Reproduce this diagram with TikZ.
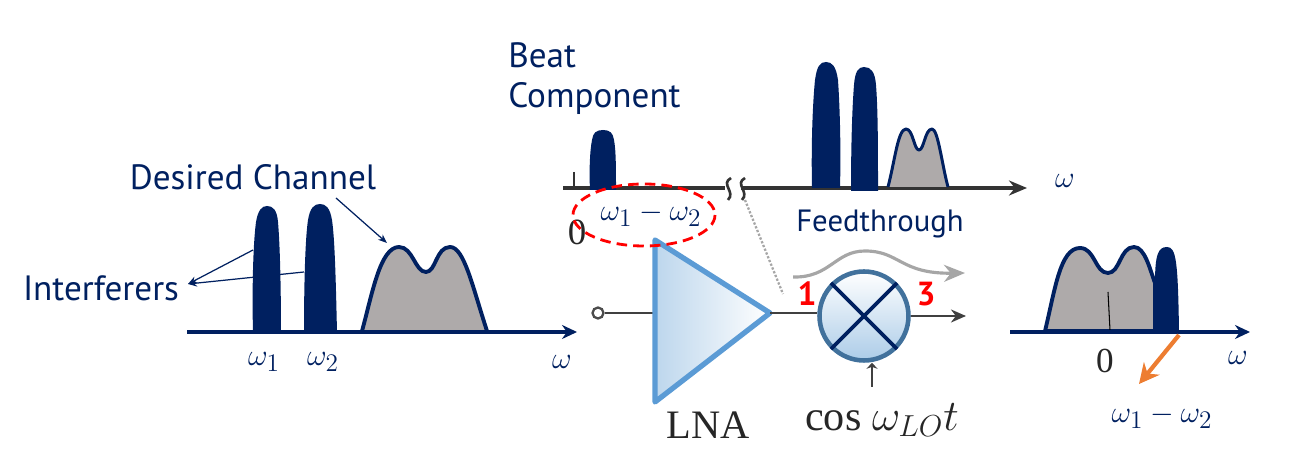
\documentclass[tikz,border=0pt]{standalone}
\usepackage{amsmath}
\usepackage{fontspec}
\setmainfont{PT Sans}
\newfontfamily\serifpart{Liberation Serif}
\usepackage{tikz}
\usetikzlibrary{arrows.meta}
\definecolor{navy}{RGB}{0,32,96}
\definecolor{chgray}{RGB}{174,170,170}
\definecolor{lnablue}{RGB}{91,155,213}
\definecolor{mixblue}{RGB}{65,113,156}
\definecolor{softblue}{RGB}{172,204,232}
\definecolor{arrorange}{RGB}{237,125,49}
\tikzset{
    txtlabel/.style={text=navy, font=\fontsize{20}{24}\selectfont, inner sep=0pt},
    mathlabel/.style={text=navy, font=\fontsize{19}{23}\selectfont, inner sep=0pt},
    seriflabel/.style={text=black!85, font=\fontsize{20}{24}\selectfont\serifpart, inner sep=0pt},
    numlabel/.style={text=red, font=\fontsize{19}{22}\selectfont\bfseries, inner sep=0pt},
    specaxis/.style={navy, line width=2pt, -{Stealth[length=0.3cm, width=0.28cm]}},
    topaxis/.style={black!80, line width=1.8pt, -{Stealth[length=0.36cm, width=0.3cm]}},
    wire/.style={black!75, line width=1.4pt},
    pulse/.style={fill=navy},
    chan/.style={fill=chgray, draw=navy, line width=2.2pt, line join=round},
    pointer/.style={navy, line width=0.7pt, -{Stealth[length=0.18cm, width=0.14cm]}}
}
\begin{document}
\begin{tikzpicture}[x=0.02cm, y=-0.02cm, >=stealth]
    \useasboundingbox (0,0) rectangle (1292,472);
    % Input spectrum
    \coordinate (inleft) at (187,332);
    \coordinate (inright) at (577,332);
    \fill[pulse] (253,334) .. controls (252,290) and (253,245) .. (256,222) .. controls (258,210) and (262,206) .. (267,206) .. controls (273,206) and (277,210) .. (278,222) .. controls (280,245) and (281,290) .. (281,334) -- cycle;
    \fill[pulse] (304,332) .. controls (304,290) and (305,240) .. (308,220) .. controls (310,208) and (314,204) .. (320,204) .. controls (326,204) and (330,208) .. (332,220) .. controls (335,240) and (336,290) .. (337,332) -- cycle;
    \draw[chan] (362,331) .. controls (372,295) and (380,247) .. (399,247) .. controls (413,247) and (415,272) .. (426,272) .. controls (436,272) and (436,247) .. (450,247) .. controls (464,247) and (472,285) .. (487,331);
    \draw[specaxis] (inleft) -- (inright);
    \node[mathlabel] (winone) at (264,362) {$\omega_1$};
    \node[mathlabel] (wintwo) at (323,362) {$\omega_2$};
    \node[mathlabel] (winw) at (562,362) {$\omega$};
    \node[txtlabel] (desired) at (253,177) {Desired Channel};
    \node[txtlabel] (interf) at (101,288) {Interferers};
    \coordinate (deswtail) at (336,198);
    \coordinate (chantop) at (387,243);
    \coordinate (pulseone) at (253,250);
    \coordinate (pulsetwo) at (304,272);
    \coordinate (interftip) at (188,284);
    \draw[pointer] (deswtail) -- (chantop);
    \draw[pointer] (pulseone) -- (interftip);
    \draw[pointer] (pulsetwo) -- (interftip);
    % Spectrum after the LNA
    \coordinate (topleft) at (563,188);
    \coordinate (topright) at (1027,188);
    \draw[topaxis] (topleft) -- (topright);
    \draw[black!80, line width=0.8pt] (574,172) -- (574,188);
    \fill[pulse] (590,190) .. controls (589,170) and (590,150) .. (592,140) .. controls (593,133) and (596,130) .. (603,130) .. controls (610,130) and (613,133) .. (614,140) .. controls (616,150) and (616,170) .. (616,190) -- cycle;
    \fill[pulse] (812,188) .. controls (811,140) and (813,100) .. (815,80) .. controls (817,66) and (820,62) .. (826,62) .. controls (832,62) and (836,66) .. (838,80) .. controls (840,110) and (841,150) .. (840,188) -- cycle;
    \fill[pulse] (851,191) .. controls (851,150) and (852,110) .. (854,85) .. controls (855,72) and (858,67) .. (864,67) .. controls (871,67) and (875,72) .. (876,85) .. controls (878,110) and (878,150) .. (878,191) -- cycle;
    \draw[chan, line width=1.7pt] (888,187) .. controls (895,160) and (898,129) .. (906,129) .. controls (913,129) and (914,150) .. (919,150) .. controls (924,150) and (925,129) .. (932,129) .. controls (938,129) and (942,165) .. (948,187);
    \fill[white] (725,184) rectangle (741,192);
    \draw[black!80, line width=1.5pt] (731,178) .. controls (720,184) and (736,192) .. (728,200);
    \draw[black!80, line width=1.5pt] (745,178) .. controls (734,184) and (750,192) .. (742,200);
    \node[mathlabel] (topw) at (1065,181) {$\omega$};
    \node[txtlabel, anchor=base west] (beat) at (508,68) {Beat};
    \node[txtlabel, anchor=base west] (comp) at (508,108) {Component};
    \node[txtlabel, font=\fontsize{17.5}{21}\selectfont] (feed) at (880,224) {Feedthrough};
    \node[seriflabel, font=\fontsize{21}{24}\selectfont\serifpart] (zerotop) at (577,232) {0};
    \node[mathlabel] (beatw) at (651,215) {$\omega_1-\omega_2$};
    % LNA and mixer
    \coordinate (lnaleft) at (655,313);
    \coordinate (lnatip) at (770,313);
    \node[circle, draw=black!70, line width=1.3pt, fill=white, minimum size=0.22cm, inner sep=0pt] (inport) at (598,313) {};
    \draw[wire] (inport) -- (lnaleft);
    \draw[lnablue, line width=3pt, line join=round, left color=softblue!80, right color=white] (655,240) -- (lnatip) -- (655,402) -- cycle;
    \node[circle, draw=mixblue, line width=2.6pt, top color=white, bottom color=softblue, minimum size=1.78cm, inner sep=0pt] (mixer) at (864,316) {};
    \draw[navy, line width=2.2pt] (mixer.north west) -- (mixer.south east);
    \draw[navy, line width=2.2pt] (mixer.north east) -- (mixer.south west);
    \coordinate (mixleft) at (mixer.west |- lnatip);
    \draw[wire] (lnatip) -- (mixleft);
    \coordinate (outend) at (966,316);
    \draw[wire, -{Stealth[length=0.3cm, width=0.26cm]}] (mixer.east) -- (outend);
    \node[seriflabel, font=\fontsize{23}{27}\selectfont\serifpart] (lnatxt) at (708,425) {LNA};
    \node[seriflabel, font=\fontsize{24}{28}\selectfont\serifpart] (lotxt) at (882,420) {cos $\omega_{LO}t$};
    \coordinate (lobase) at (872,387);
    \draw[wire, -{Stealth[length=0.12cm, width=0.22cm]}] (lobase) -- (mixer.south -| lobase);
    \node[numlabel] (nodeone) at (807,294) {1};
    \node[numlabel] (nodethree) at (926,294) {3};
    % Feedthrough path and zoom line
    \coordinate (feedstart) at (793,277);
    \coordinate (feedend) at (965,273);
    \draw[black!35, line width=1.8pt, -{Stealth[length=0.42cm, width=0.34cm]}] (feedstart) .. controls (830,278) and (835,251) .. (865,251) .. controls (900,251) and (900,274) .. (feedend);
    \coordinate (zoomtop) at (745,200);
    \coordinate (zoombot) at (783,294);
    \draw[black!35, line width=1.3pt, densely dotted] (zoomtop) -- (zoombot);
    % Red circle round the beat
    \draw[red, line width=1.6pt, dash pattern=on 6pt off 3.5pt] (644,215) ellipse (71 and 31);
    % Output spectrum
    \coordinate (outleft) at (1010,332);
    \coordinate (outright) at (1250,332);
    \draw[chan] (1045,331) .. controls (1055,290) and (1060,248) .. (1080,248) .. controls (1095,248) and (1095,273) .. (1108,273) .. controls (1120,273) and (1120,247) .. (1134,247) .. controls (1145,247) and (1150,270) .. (1155,283) -- (1155,331) -- cycle;
    \fill[pulse] (1155,332) -- (1155,283) .. controls (1155,255) and (1158,247) .. (1167,247) .. controls (1176,247) and (1178,260) .. (1179,332) -- cycle;
    \draw[black, line width=0.6pt] (1108,292) -- (1110,330);
    \draw[specaxis] (outleft) -- (outright);
    \node[seriflabel] (zeroout) at (1105,361) {0};
    \node[mathlabel] (outw) at (1238,358) {$\omega$};
    \node[mathlabel] (outbeat) at (1162,417) {$\omega_1-\omega_2$};
    \coordinate (beatbase) at (1179,335);
    \coordinate (beattip) at (1139,384);
    \draw[arrorange, line width=2.4pt, -{Stealth[length=0.4cm, width=0.4cm]}] (beatbase) -- (beattip);
\end{tikzpicture}
\end{document}
